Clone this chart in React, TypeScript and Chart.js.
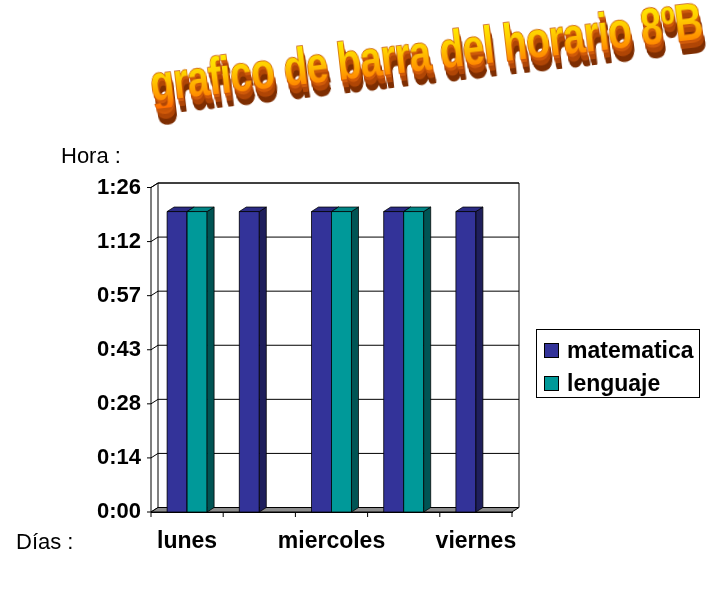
import React, { useEffect, useRef } from 'react';
import { Chart, registerables } from 'chart.js';
Chart.register(...registerables);

// ---- data ----
const titleText = 'grafico de barra del horario 8ºB';
const categories = ['lunes', 'martes', 'miercoles', 'jueves', 'viernes'];
const seriesNames = ['matematica', 'lenguaje'];
// minutes per day
const matematica = [80, 80, 80, 80, 80];
const lenguaje = [80, 0, 80, 80, 0];
const yMax = 86.4; // 1:26
const yStep = 14.4; // 0:14
const yAxisTitle = 'Hora :';
const xAxisTitle = 'Días :';

// ---- styles ----
const frontColors = ['#333399', '#009999'];
const topColors = ['#2b2b84', '#008585'];
const sideColors = ['#1f1f5c', '#005454'];
const DX = 7;
const DY = 4.5;
const FONT = '"Liberation Sans", Arial, sans-serif';
const EDGE = 'rgba(0,0,0,0.75)';

function fmt(v: number): string {
  const m = Math.floor(v + 1e-6);
  return Math.floor(m / 60) + ':' + String(m % 60).padStart(2, '0');
}

const threeD = {
  id: 'threeD',
  beforeDatasetsDraw(chart: any) {
    const { ctx, chartArea, scales } = chart;
    const { left, right, top, bottom } = chartArea;
    const y = scales.y;
    const x = scales.x;
    ctx.save();
    ctx.lineWidth = 1;
    ctx.strokeStyle = '#000';
    // back wall
    ctx.beginPath();
    ctx.rect(left + DX, top - DY, right - left, bottom - top);
    ctx.stroke();
    // left wall
    ctx.beginPath();
    ctx.moveTo(left, bottom);
    ctx.lineTo(left, top);
    ctx.lineTo(left + DX, top - DY);
    ctx.stroke();
    // gridlines
    y.ticks.forEach((t: any) => {
      const py = y.getPixelForValue(t.value);
      ctx.beginPath();
      ctx.moveTo(left - 4, py);
      ctx.lineTo(left, py);
      ctx.lineTo(left + DX, py - DY);
      ctx.lineTo(right + DX, py - DY);
      ctx.stroke();
    });
    // floor
    ctx.beginPath();
    ctx.moveTo(left, bottom);
    ctx.lineTo(right, bottom);
    ctx.lineTo(right + DX, bottom - DY);
    ctx.lineTo(left + DX, bottom - DY);
    ctx.closePath();
    ctx.fillStyle = '#8c8c8c';
    ctx.fill();
    ctx.stroke();
    // category ticks
    const n = categories.length;
    for (let i = 0; i <= n; i++) {
      let px: number;
      if (i === 0) px = left;
      else if (i === n) px = right;
      else px = (x.getPixelForValue(i - 1) + x.getPixelForValue(i)) / 2;
      ctx.beginPath();
      ctx.moveTo(px, bottom);
      ctx.lineTo(px, bottom + 5);
      ctx.stroke();
    }
    ctx.restore();
  },
  afterDatasetsDraw(chart: any) {
    const { ctx } = chart;
    ctx.save();
    ctx.lineWidth = 1;
    ctx.strokeStyle = EDGE;
    const n = chart.data.datasets.length;
    for (let i = 0; i < n; i++) {
      const meta = chart.getDatasetMeta(i);
      const data = chart.data.datasets[i].data;
      meta.data.forEach((el: any, j: number) => {
        if (!data[j]) return;
        const p = el.getProps(['x', 'y', 'base', 'width'], true);
        const l = p.x - p.width / 2;
        const r = p.x + p.width / 2;
        // front
        ctx.beginPath();
        ctx.rect(l, p.y, r - l, p.base - p.y);
        ctx.fillStyle = frontColors[i];
        ctx.fill();
        ctx.stroke();
        // side
        ctx.beginPath();
        ctx.moveTo(r, p.y);
        ctx.lineTo(r + DX, p.y - DY);
        ctx.lineTo(r + DX, p.base - DY);
        ctx.lineTo(r, p.base);
        ctx.closePath();
        ctx.fillStyle = sideColors[i];
        ctx.fill();
        ctx.stroke();
        // top
        ctx.beginPath();
        ctx.moveTo(l, p.y);
        ctx.lineTo(r, p.y);
        ctx.lineTo(r + DX, p.y - DY);
        ctx.lineTo(l + DX, p.y - DY);
        ctx.closePath();
        ctx.fillStyle = topColors[i];
        ctx.fill();
        ctx.stroke();
      });
    }
    ctx.restore();
  },
};

export default function App() {
  const canvasRef = useRef<HTMLCanvasElement>(null);
  const titleRef = useRef<HTMLDivElement>(null);

  useEffect(() => {
    const t = titleRef.current;
    if (t) {
      const w = t.offsetWidth;
      t.style.transform = `translate(-50%,-50%) rotate(-6.5deg) scaleX(${555 / w})`;
    }
    const chart = new Chart(canvasRef.current as HTMLCanvasElement, {
      type: 'bar',
      data: {
        labels: categories,
        datasets: [matematica, lenguaje].map((d, i) => ({
          label: seriesNames[i],
          data: d,
          backgroundColor: frontColors[i],
          borderColor: EDGE,
          borderWidth: 1,
          borderSkipped: false,
          categoryPercentage: 0.554,
          barPercentage: 1,
        })),
      },
      options: {
        animation: false,
        responsive: false,
        layout: { padding: { left: 0, right: 201, top: 187.5, bottom: 34 } },
        plugins: { legend: { display: false }, tooltip: { enabled: false }, title: { display: false } },
        scales: {
          x: {
            grid: { display: false, drawTicks: false },
            border: { display: true, color: '#000', width: 1 },
            afterFit: (s: any) => { s.height = 60; },
            ticks: {
              autoSkip: false,
              maxRotation: 0,
              padding: 16,
              color: '#000',
              font: { family: FONT, size: 23, weight: 'bold' },
              callback: (_v: any, i: number) => (i % 2 === 0 ? categories[i] : ''),
            },
          },
          y: {
            min: 0,
            max: yMax,
            grid: { display: false, drawTicks: false },
            border: { display: false },
            afterFit: (s: any) => { s.width = 151; },
            ticks: {
              stepSize: yStep,
              padding: 10,
              color: '#000',
              font: { family: FONT, size: 22, weight: 'bold' },
              callback: (v: any) => fmt(Number(v)),
            },
          },
        },
      },
      plugins: [threeD],
    });
    return () => chart.destroy();
  }, []);

  const titleBase: React.CSSProperties = {
    fontFamily: FONT,
    fontWeight: 'bold',
    fontSize: 52,
    lineHeight: 1,
    whiteSpace: 'nowrap',
    letterSpacing: -1,
  };
  const shadows = Array.from({ length: 14 }, (_, k) => {
    const i = k + 1;
    const c = i < 4 ? '#d05a0a' : i < 9 ? '#b04606' : '#7e2e02';
    return `${(i * 0.2).toFixed(2)}px ${i}px 0 ${c}`;
  }).join(',');

  return (
    <div style={{ position: 'absolute', left: 0, top: 0, width: 713, height: 606, background: '#fff', overflow: 'hidden' }}>
      <canvas ref={canvasRef} width={713} height={606} style={{ position: 'absolute', left: 0, top: 0, width: 713, height: 606 }} />
      <div ref={titleRef} style={{ position: 'absolute', left: 426, top: 52, transform: 'translate(-50%,-50%) rotate(-6.5deg)' }}>
        <div style={{ ...titleBase, color: '#c85608', textShadow: shadows, WebkitTextStroke: '1.5px #c85608' }}>{titleText}</div>
        <div
          style={{
            ...titleBase,
            position: 'absolute',
            left: 0,
            top: 0,
            color: 'transparent',
            backgroundImage: 'linear-gradient(to bottom, #fff200 0%, #ffd000 40%, #ff9a00 75%, #ff6a00 100%)',
            WebkitBackgroundClip: 'text',
            backgroundClip: 'text',
          }}
        >
          {titleText}
        </div>
      </div>
      <div style={{ position: 'absolute', left: 61, top: 145, fontFamily: FONT, fontSize: 22, lineHeight: '22px', color: '#000' }}>{yAxisTitle}</div>
      <div style={{ position: 'absolute', left: 16, top: 531, fontFamily: FONT, fontSize: 22, lineHeight: '22px', color: '#000' }}>{xAxisTitle}</div>
      <div
        style={{
          position: 'absolute',
          left: 536,
          top: 329,
          width: 162,
          height: 67,
          border: '1px solid #000',
          fontFamily: FONT,
          fontWeight: 'bold',
          fontSize: 23,
          color: '#000',
        }}
      >
        {seriesNames.map((n, i) => (
          <div key={n} style={{ position: 'absolute', left: 7, top: 7 + i * 33, height: 26, display: 'flex', alignItems: 'center', whiteSpace: 'nowrap' }}>
            <span style={{ display: 'inline-block', width: 13, height: 13, background: frontColors[i], border: '1px solid #000', marginRight: 8 }} />
            <span style={{ lineHeight: '26px' }}>{n}</span>
          </div>
        ))}
      </div>
    </div>
  );
}
